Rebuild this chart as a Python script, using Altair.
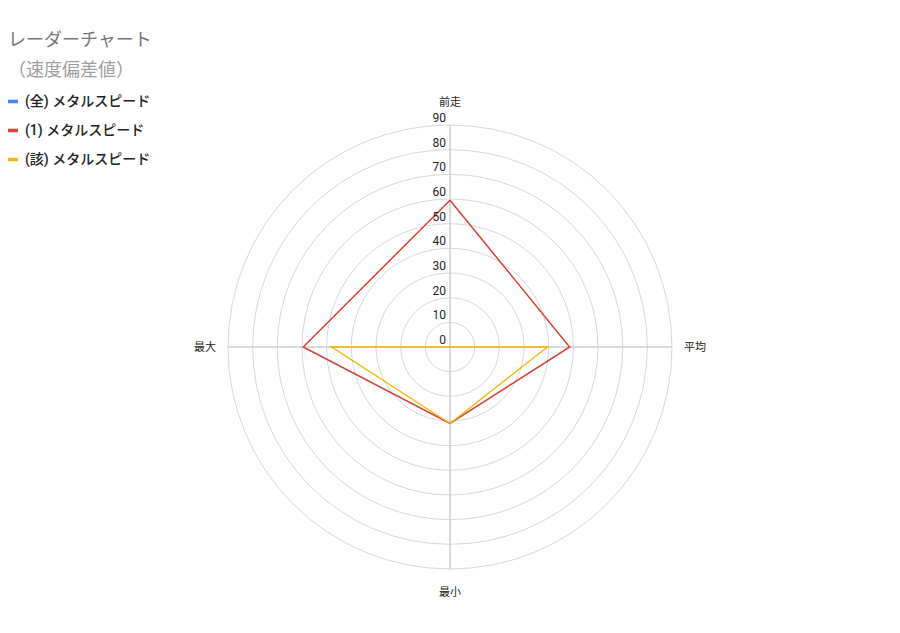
import math
import altair as alt
import pandas as pd

# ---- data ----
axes_labels = ["前走", "平均", "最小", "最大"]
axis_index = [0, 1, 2, 3]
series_names = ["(全) メタルスピード", "(1) メタルスピード", "(該) メタルスピード"]
series_colors = ["#4285f4", "#db4437", "#f4b400"]
vals_all = [59.5, 48.5, 31, 59.5]
vals_one = [59.5, 48.5, 31, 59.5]
vals_gai = [0, 39.5, 31, 48]
ring_values = [10, 20, 30, 40, 50, 60, 70, 80, 90]
tick_values = [0, 10, 20, 30, 40, 50, 60, 70, 80, 90]

FONT = "Roboto, Noto Sans CJK JP, sans-serif"
R_MAX = 90
R_PX = 222

rows = []
for name, vals in zip(series_names, [vals_all, vals_one, vals_gai]):
    for k, (i, v) in enumerate(zip(axis_index + [axis_index[0]], vals + [vals[0]])):
        rows.append({"series": name, "idx": i, "value": v, "order": k})
df_lines = pd.DataFrame(rows)
df_axes = pd.DataFrame({"label": axes_labels, "idx": axis_index})
df_rings = pd.DataFrame({"r": ring_values})
df_ticks = pd.DataFrame({"t": tick_values, "t_label": [str(t) for t in tick_values]})

xs = alt.Scale(domain=[-R_MAX, R_MAX], nice=False, zero=False)
ys = alt.Scale(domain=[-R_MAX, R_MAX], nice=False, zero=False)
color_scale = alt.Scale(domain=series_names, range=series_colors)

rings = alt.Chart(df_rings).mark_arc(
    theta=0, theta2=2 * math.pi, fillOpacity=0, stroke="#d6d6d6", strokeWidth=1
).encode(
    radius=alt.Radius(
        "r:Q",
        stack=None,
        scale=alt.Scale(type="linear", domain=[0, R_MAX], range=[0, R_PX], zero=True),
    )
)

spokes = alt.Chart(df_axes).transform_calculate(
    x2v=f"{R_MAX}*sin(datum.idx*PI/2)",
    y2v=f"{R_MAX}*cos(datum.idx*PI/2)",
    zero="0",
).mark_rule(color="#cccccc", strokeWidth=1.5).encode(
    x=alt.X("zero:Q", scale=xs, axis=None),
    y=alt.Y("zero:Q", scale=ys, axis=None),
    x2="x2v:Q",
    y2="y2v:Q",
)

axis_text = alt.Chart(df_axes).transform_calculate(
    lx="99.3*sin(datum.idx*PI/2)",
    ly="99.3*cos(datum.idx*PI/2)",
).mark_text(font=FONT, fontSize=11, color="#222222", align="center", baseline="middle", dy=1).encode(
    x=alt.X("lx:Q", scale=xs, axis=None),
    y=alt.Y("ly:Q", scale=ys, axis=None),
    text="label:N",
)

tick_text = alt.Chart(df_ticks).transform_calculate(zero="0").mark_text(
    font=FONT, fontSize=12, color="#222222", align="right", baseline="bottom", dx=-4, dy=0
).encode(
    x=alt.X("zero:Q", scale=xs, axis=None),
    y=alt.Y("t:Q", scale=ys, axis=None),
    text="t_label:N",
)

def series_layer(name, width):
    return alt.Chart(df_lines).transform_filter(
        alt.datum.series == name
    ).transform_calculate(
        px="datum.value*sin(datum.idx*PI/2)",
        py="datum.value*cos(datum.idx*PI/2)",
    ).mark_line(strokeWidth=width).encode(
        x=alt.X("px:Q", scale=xs, axis=None),
        y=alt.Y("py:Q", scale=ys, axis=None),
        order="order:Q",
        color=alt.Color(
            "series:N",
            scale=color_scale,
            sort=series_names,
            legend=alt.Legend(
                title=None,
                orient="none",
                legendX=-225,
                legendY=-32,
                symbolType="stroke",
                symbolStrokeWidth=3.5,
                symbolSize=170,
                symbolOpacity=1,
                labelFont=FONT,
                labelFontSize=14,
                labelFontWeight=500,
                labelColor="#222222",
                labelOffset=5,
                rowPadding=13,
            ),
        ),
    )

chart = alt.layer(
    rings,
    spokes,
    series_layer(series_names[0], 1.0),
    series_layer(series_names[1], 1.5),
    series_layer(series_names[2], 1.4),
    tick_text,
    axis_text,
).properties(
    width=444,
    height=444,
    autosize=alt.AutoSizeParams(type="none"),
    padding={"left": 220, "top": 117, "right": 220, "bottom": 56},
    title=alt.TitleParams(
        text="レーダーチャート",
        subtitle="（速度偏差値）",
        anchor="start",
        frame="group",
        font=FONT,
        fontSize=18,
        fontWeight="normal",
        color="#757575",
        subtitleFont=FONT,
        subtitleFontSize=18,
        subtitleColor="#9e9e9e",
        subtitlePadding=12,
        dx=-220,
        offset=13,
    ),
).configure_view(stroke=None)

chart.save("out.html", embed_options={"renderer": "svg", "actions": False})
